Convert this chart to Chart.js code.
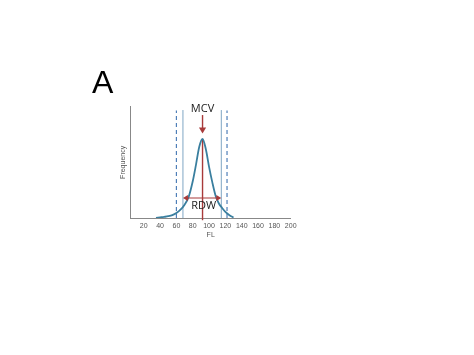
<!DOCTYPE html>
<html>
<head>
<meta charset="utf-8">
<script src="https://cdn.jsdelivr.net/npm/chart.js@4"></script>
<style>
  body { margin: 0; background: #fff; }
  #wrap { position: relative; width: 474px; height: 355px; }
  #panel {
    position: absolute; left: 92px; top: 64px;
    font: 32px "Liberation Sans", Arial, sans-serif; color: #000;
  }
</style>
</head>
<body>
<div id="wrap">
  <canvas id="chart" width="474" height="355"></canvas>
  <div id="panel">A</div>
</div>
<script>
// MCV distribution curve (FL vs relative frequency)
const curveX = [35, 40, 45, 50, 55, 60, 65, 70, 75, 80, 84, 88, 92, 96, 100, 104, 108, 112, 116, 120, 125, 130];
const curveY = [0.0, 0.005, 0.01, 0.016, 0.026, 0.045, 0.075, 0.12, 0.19, 0.33, 0.48, 0.64, 0.71, 0.62, 0.46, 0.32, 0.2, 0.13, 0.09, 0.055, 0.025, 0.004];
const xTicks = [20, 40, 60, 80, 100, 120, 140, 160, 180, 200];
const dashedLines = [60, 122];
const rdwLines = [68, 115];
const mcv = 92;
const mcvPeak = 0.71;

const vline = (x, y0, y1) => [{ x: x, y: y0 }, { x: x, y: y1 }];

const datasets = [
    {
        data: curveX.map((x, i) => ({ x: x, y: curveY[i] })),
        borderColor: '#3a7f9f',
        borderWidth: 1.8,
        cubicInterpolationMode: 'monotone',
        pointRadius: 0
    }
];
dashedLines.forEach(x => datasets.push({
    data: vline(x, 0, 0.965),
    borderColor: '#4f7fb8',
    borderWidth: 1.2,
    borderDash: [4, 3],
    pointRadius: 0
}));
rdwLines.forEach(x => datasets.push({
    data: vline(x, 0, 0.97),
    borderColor: '#7fa6c4',
    borderWidth: 1,
    pointRadius: 0
}));
datasets.push({
    data: vline(mcv, -0.02, mcvPeak),
    borderColor: '#a83a3a',
    borderWidth: 1.4,
    pointRadius: 0,
    clip: false
});

function arrowHead(ctx, x, y, angle, size) {
    ctx.save();
    ctx.translate(x, y);
    ctx.rotate(angle);
    ctx.beginPath();
    ctx.moveTo(0, 0);
    ctx.lineTo(-size, -size * 0.6);
    ctx.lineTo(-size, size * 0.6);
    ctx.closePath();
    ctx.fill();
    ctx.restore();
}

const labelsPlugin = {
    id: 'labels',
    afterDatasetsDraw(chart) {
        const ctx = chart.ctx;
        const xs = chart.scales.x, ys = chart.scales.y;
        ctx.save();
        // MCV arrow
        const mx = xs.getPixelForValue(mcv);
        const a0 = ys.getPixelForValue(0.925), a1 = ys.getPixelForValue(0.76);
        ctx.strokeStyle = '#a83a3a';
        ctx.fillStyle = '#a83a3a';
        ctx.lineWidth = 1.4;
        ctx.beginPath();
        ctx.moveTo(mx, a0);
        ctx.lineTo(mx, a1 - 4);
        ctx.stroke();
        arrowHead(ctx, mx, a1, Math.PI / 2, 6);
        // RDW double arrow
        const ry = ys.getPixelForValue(0.18);
        const r0 = xs.getPixelForValue(rdwLines[0]), r1 = xs.getPixelForValue(rdwLines[1]);
        ctx.lineWidth = 1.1;
        ctx.beginPath();
        ctx.moveTo(r0 + 3, ry);
        ctx.lineTo(r1 - 3, ry);
        ctx.stroke();
        arrowHead(ctx, r0, ry, Math.PI, 5);
        arrowHead(ctx, r1, ry, 0, 5);
        // texts
        ctx.fillStyle = '#1a1a1a';
        ctx.font = '11px "Open Sans", sans-serif';
        ctx.textAlign = 'center';
        ctx.textBaseline = 'middle';
        ctx.fillText('MCV', mx, ys.getPixelForValue(0.98));
        ctx.fillText('RDW', xs.getPixelForValue(93.5), ys.getPixelForValue(0.108));
        ctx.restore();
    }
};

new Chart(document.getElementById('chart'), {
    type: 'line',
    data: { datasets: datasets },
    options: {
        responsive: false,
        animation: false,
        layout: { padding: { left: 114.7, top: 106.7, right: 183.3, bottom: 111.8 } },
        plugins: { legend: { display: false }, tooltip: { enabled: false } },
        scales: {
            x: {
                type: 'linear',
                min: 4,
                max: 200,
                afterBuildTicks: s => { s.ticks = xTicks.map(v => ({ value: v })); },
                afterFit: s => { s.height = 25.2; },
                grid: { display: false, drawTicks: false },
                border: { color: '#888', width: 1 },
                ticks: { color: '#555', font: { family: 'Liberation Sans', size: 7 }, padding: 4, maxRotation: 0 },
                title: { display: true, text: 'FL', color: '#555', font: { family: 'Liberation Sans', size: 7 } }
            },
            y: {
                min: 0,
                max: 1,
                afterFit: s => { s.width = 16; },
                grid: { display: false, drawTicks: false },
                border: { color: '#888', width: 1 },
                ticks: { display: false },
                title: { display: true, text: 'Frequency', color: '#555', font: { family: 'Liberation Sans', size: 7 } }
            }
        }
    },
    plugins: [labelsPlugin]
});
</script>
</body>
</html>
